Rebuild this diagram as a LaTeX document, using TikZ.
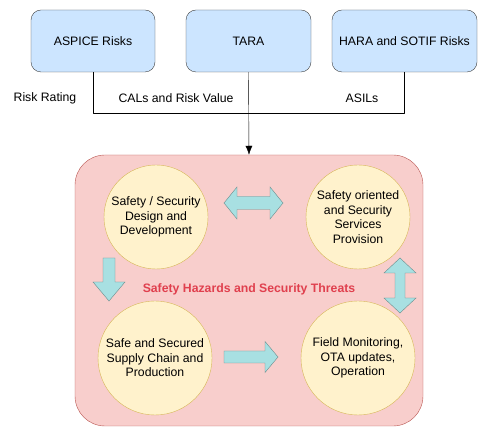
\documentclass[tikz,border=0pt]{standalone}
\usepackage{fontspec}
\usetikzlibrary{arrows.meta}
\setmainfont{Liberation Sans}
\definecolor{riskfill}{HTML}{CCE5FF}
\definecolor{riskdraw}{HTML}{404040}
\definecolor{zonefill}{HTML}{F8CECC}
\definecolor{zonedraw}{HTML}{B85450}
\definecolor{phasefill}{HTML}{FFF2CC}
\definecolor{phasedraw}{HTML}{D6B656}
\definecolor{flowfill}{HTML}{A8E0E2}
\definecolor{flowdraw}{HTML}{6A8C8C}
\definecolor{threatred}{HTML}{E0404E}
\tikzset{
  riskbox/.style={draw=riskdraw,fill=riskfill,rounded corners=10bp,minimum height=62bp,inner sep=0pt},
  phase/.style={circle,draw=phasedraw,fill=phasefill,align=center,inner sep=0pt},
  flowarrow/.style={draw=flowdraw,fill=flowfill,line join=miter},
  risklabel/.style={inner sep=1pt},
}
\begin{document}
\begin{tikzpicture}[>={Latex[length=9bp,width=7bp]},line join=bevel,font=\fontsize{12.3}{14.6}\selectfont]
\useasboundingbox (0bp,0bp) rectangle (490bp,436bp);
%%
\node (aspice) at (93bp,395bp) [riskbox,minimum width=124bp] {ASPICE Risks};
  \node (tara) at (248.5bp,395bp) [riskbox,minimum width=125bp] {TARA};
  \node (hara) at (404.5bp,395bp) [riskbox,minimum width=145bp] {HARA and SOTIF Risks};
%
\node (zone) at (249bp,145.5bp) [draw=zonedraw,fill=zonefill,rounded corners=30bp,minimum width=348bp,minimum height=271bp] {};
  \draw [black] (aspice.south) -- ++(0bp,-41bp) -| (hara.south);
  \draw [black,->] (tara.south) -- (zone.north);
  \node (rating) at (45bp,338bp) [risklabel] {Risk Rating};
  \node (cals) at (176bp,338bp) [risklabel] {CALs and Risk Value};
  \node (asils) at (362bp,338bp) [risklabel] {ASILs};
%
\node (design) at (156bp,219bp) [phase,minimum size=104bp] {Safety / Security\\Design and\\Development};
  \node (services) at (358bp,219bp) [phase,minimum size=104bp] {Safety oriented\\and Security\\Services\\Provision};
  \node (supply) at (155bp,78bp) [phase,minimum size=114bp] {Safe and Secured\\Supply Chain and\\Production};
  \node (field) at (358bp,78bp) [phase,minimum size=114bp] {Field Monitoring,\\OTA updates,\\Operation};
  \node (threats) at (249bp,147bp) [text=threatred,font=\fontsize{12.3}{14.6}\selectfont\bfseries] {Safety Hazards and Security Threats};
%
\draw [flowarrow] (224bp,233bp) -- (237bp,249bp) -- (237bp,239.5bp) -- (270bp,239.5bp) -- (270bp,249bp) -- (283bp,233bp) -- (270bp,217bp) -- (270bp,226.5bp) -- (237bp,226.5bp) -- (237bp,217bp) -- cycle;
  \draw [flowarrow] (103bp,178bp) -- (115bp,178bp) -- (115bp,154bp) -- (125bp,154bp) -- (109bp,135bp) -- (93bp,154bp) -- (103bp,154bp) -- cycle;
  \draw [flowarrow] (224bp,85bp) -- (265bp,85bp) -- (265bp,94.5bp) -- (278bp,79bp) -- (265bp,63.5bp) -- (265bp,73bp) -- (224bp,73bp) -- cycle;
  \draw [flowarrow] (400bp,178bp) -- (416bp,163bp) -- (405bp,163bp) -- (405bp,138bp) -- (416bp,138bp) -- (400bp,123bp) -- (384bp,138bp) -- (395bp,138bp) -- (395bp,163bp) -- (384bp,163bp) -- cycle;
%
\end{tikzpicture}
\end{document}
